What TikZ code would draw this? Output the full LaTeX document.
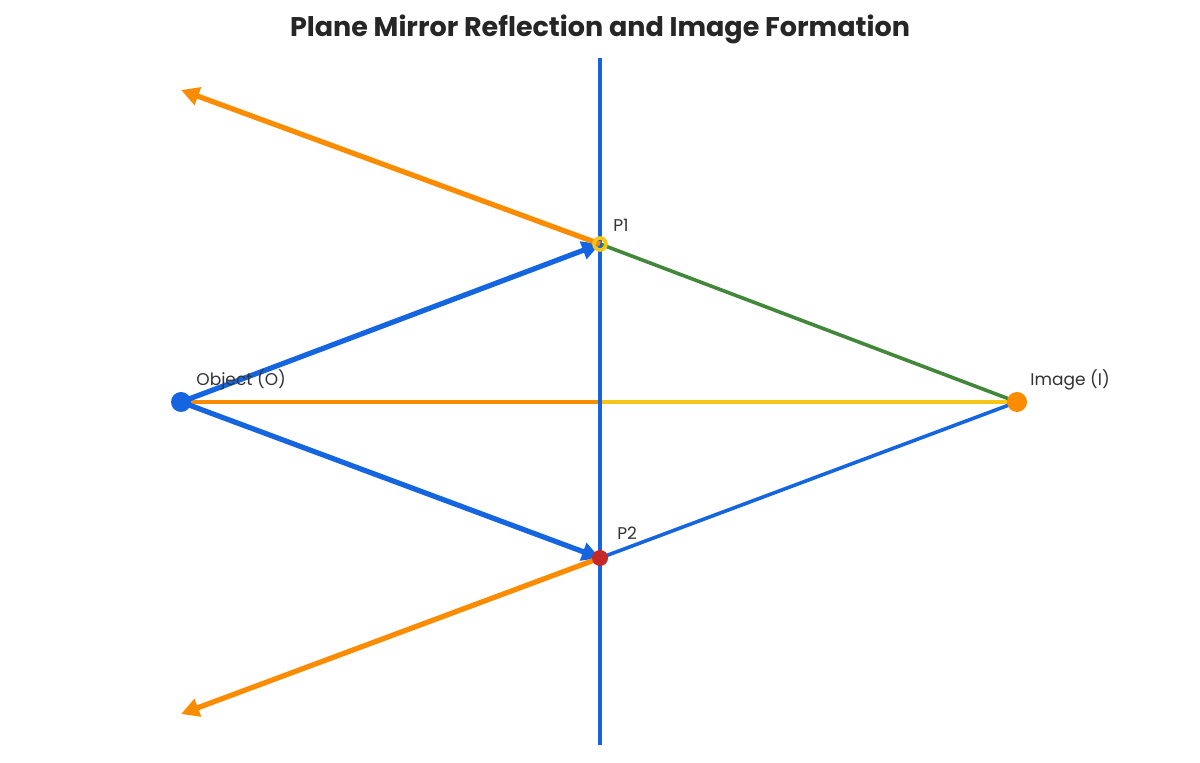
\documentclass[tikz,border=0pt]{standalone}
\usepackage{fontspec}
\setmainfont{Poppins}
\usetikzlibrary{arrows.meta}
\definecolor{mblue}{HTML}{1565E0}
\definecolor{morange}{HTML}{FB8C00}
\definecolor{mgreen}{HTML}{43873A}
\definecolor{myellow}{HTML}{F5C518}
\definecolor{mred}{HTML}{C62828}
\tikzset{ray/.style={line width=2.6pt},thin ray/.style={line width=1.8pt},
 tip/.style={-{Triangle[length=9pt,width=9pt]}},
 lbl/.style={font=\fontsize{8.5pt}{10pt}\selectfont,text=black!80,anchor=south west,inner sep=0pt}}
\begin{document}
\begin{tikzpicture}[x=0.5pt,y=-0.5pt]
\useasboundingbox (0,0) rectangle (1200,763);
\fill[white] (0,0) rectangle (1200,763);
\node[font=\bfseries\fontsize{13.5pt}{16pt}\selectfont,text=black!85] (title) at (600,29) {Plane Mirror Reflection and Image Formation};
\coordinate (O) at (181,402);
\coordinate (I) at (1017,402);
\coordinate (P1) at (600,244);
\coordinate (P2) at (600,558);
\coordinate (M) at (600,402);
\coordinate (MT) at (600,58);
\coordinate (MB) at (600,745);
\coordinate (R1) at (181,90);
\coordinate (R2) at (181,714);
\draw[thin ray,morange] (O) -- (M);
\draw[thin ray,myellow] (M) -- (I);
\draw[thin ray,mgreen] (P1) -- (I);
\draw[thin ray,mblue] (P2) -- (I);
\draw[line width=2.2pt,mblue] (MT) -- (MB);
\draw[ray,mblue,tip] (O) -- (P1);
\draw[ray,mblue,tip] (O) -- (P2);
\draw[ray,morange,tip] (P1) -- (R1);
\draw[ray,morange,tip] (P2) -- (R2);
\fill[mblue] (O) circle (10);
\fill[morange] (I) circle (10);
\draw[myellow,line width=1.8pt] (P1) circle (6);
\fill[mred] (P2) circle (8);
\node[lbl] (lo) at (196,390) {Object (O)};
\node[lbl] (li) at (1030,390) {Image (I)};
\node[lbl] (l1) at (613,232) {P1};
\node[lbl] (l2) at (617,540) {P2};
\end{tikzpicture}
\end{document}
